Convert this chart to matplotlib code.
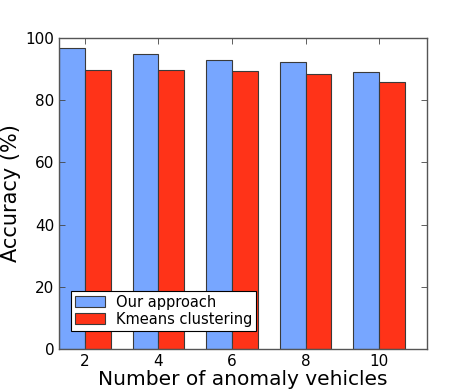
import numpy as np
import matplotlib
matplotlib.use("Agg")
import matplotlib.pyplot as plt

# Accuracy per number of anomaly vehicles
vehicles = [2, 4, 6, 8, 10]
ours = [96.8, 95.0, 93.0, 92.2, 89.0]
kmeans = [89.6, 89.6, 89.4, 88.4, 85.7]

plt.rcParams.update({
    "font.family": "DejaVu Sans",
    "xtick.direction": "in",
    "ytick.direction": "in",
    "xtick.top": True,
    "ytick.right": True,
})

fig = plt.figure(figsize=(4.74, 3.89), dpi=100)
ax = fig.add_axes([59 / 474, 1 - 349 / 389, 368 / 474, 311 / 389])

x = np.array(vehicles, dtype=float)
w = 0.7
ax.bar(x - w, ours, width=w, align="edge", color="#77A6FF",
       edgecolor="#3a3a3a", linewidth=0.8, label="Our approach")
ax.bar(x, kmeans, width=w, align="edge", color="#FF3318",
       edgecolor="#3a3a3a", linewidth=0.8, label="Kmeans clustering")

ax.set_xlim(1.3, 11.3)
ax.set_ylim(0, 100)
ax.set_xticks(vehicles)
ax.set_yticks([0, 20, 40, 60, 80, 100])
ax.tick_params(labelsize=11, length=4, width=0.6, colors="#444444", labelcolor="black")
for s in ax.spines.values():
    s.set_color("#555555")
    s.set_linewidth(1.0)

ax.set_xlabel("Number of anomaly vehicles", fontsize=14.5, labelpad=1)
ax.set_ylabel("Accuracy (%)", fontsize=15, labelpad=3)

leg = ax.legend(loc="lower left", bbox_to_anchor=(0.025, 0.05), fontsize=10.5,
                fancybox=False, framealpha=1, edgecolor="black",
                handlelength=2.1, handleheight=0.8, borderpad=0.25,
                labelspacing=0.15, borderaxespad=0.2, handletextpad=0.7)
leg.get_frame().set_linewidth(0.8)

fig.savefig("out.png", dpi=100, facecolor="white")
